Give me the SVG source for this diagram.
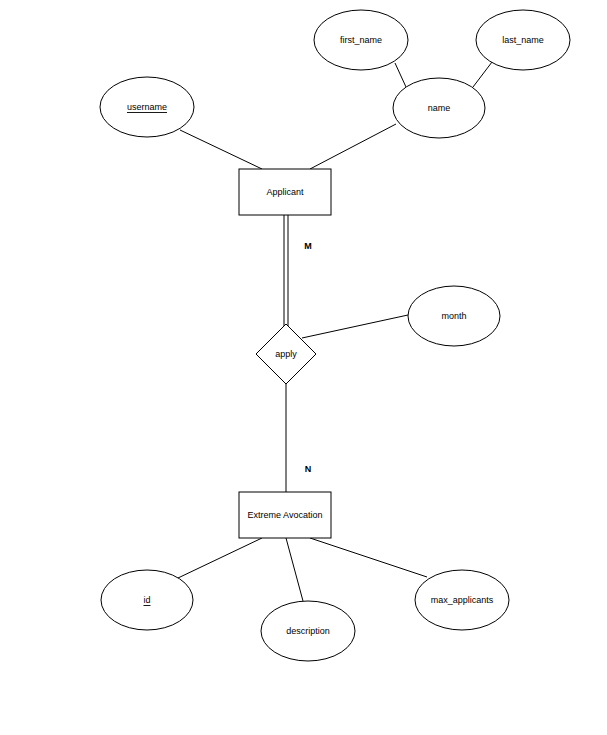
<svg xmlns="http://www.w3.org/2000/svg" width="607" height="735" viewBox="0 0 607 735">
<style>
.s{fill:#fff;stroke:#000;stroke-width:1}
.l{stroke:#000;stroke-width:1;fill:none}
text{font-family:"Liberation Sans",Arial,sans-serif;font-size:9px;fill:#000;text-anchor:middle;dominant-baseline:central}
</style>
<rect width="607" height="735" fill="#fff"/>
<g id="connectors">
<line class="l" x1="180" y1="130" x2="262" y2="169"/>
<line class="l" x1="396" y1="124" x2="310" y2="169"/>
<line class="l" x1="395" y1="63" x2="406" y2="87"/>
<line class="l" x1="492" y1="62" x2="473" y2="87"/>
<line class="l" x1="284" y1="215" x2="284" y2="326"/>
<line class="l" x1="288" y1="215" x2="288" y2="328"/>
<line class="l" x1="302" y1="338" x2="408" y2="315"/>
<line class="l" x1="286" y1="384" x2="286" y2="492"/>
<line class="l" x1="262" y1="538" x2="178" y2="578"/>
<line class="l" x1="286" y1="538" x2="303" y2="601"/>
<line class="l" x1="310" y1="538" x2="427" y2="577"/>
<text x="308" y="246" font-weight="bold">M</text>
<text x="308" y="469" font-weight="bold">N</text>
</g>
<g id="first_name"><ellipse class="s" cx="361" cy="40" rx="47" ry="30"/><text x="361" y="40">first_name</text></g>
<g id="last_name"><ellipse class="s" cx="523" cy="40" rx="47" ry="30"/><text x="523" y="40">last_name</text></g>
<g id="username"><ellipse class="s" cx="147" cy="107" rx="47" ry="30"/><text x="147" y="107" text-decoration="underline">username</text></g>
<g id="name"><ellipse class="s" cx="439" cy="108" rx="46" ry="30"/><text x="439" y="108">name</text></g>
<g id="applicant"><rect class="s" x="239" y="169" width="92" height="46"/><text x="285" y="192">Applicant</text></g>
<g id="apply"><polygon class="s" points="286,324 316,354 286,384 256,354"/><text x="286" y="354">apply</text></g>
<g id="month"><ellipse class="s" cx="454" cy="316" rx="46" ry="30"/><text x="454" y="316">month</text></g>
<g id="extreme_avocation"><rect class="s" x="239" y="492" width="92" height="46"/><text x="285" y="515">Extreme Avocation</text></g>
<g id="id"><ellipse class="s" cx="147" cy="600" rx="46" ry="30"/><text x="147" y="600" text-decoration="underline">id</text></g>
<g id="description"><ellipse class="s" cx="308" cy="631" rx="47" ry="30"/><text x="308" y="631">description</text></g>
<g id="max_applicants"><ellipse class="s" cx="462" cy="600" rx="47" ry="30"/><text x="462" y="600">max_applicants</text></g>
</svg>
